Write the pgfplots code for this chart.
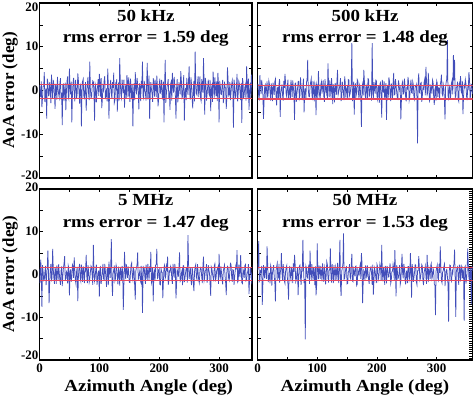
\documentclass[border=0pt]{standalone}
\usepackage{fontspec}
\setmainfont{Liberation Serif}
\newfontfamily\widefont{Liberation Serif}[FakeStretch=1.12]
\usepackage{pgfplots}
\usepackage{pgfplotstable}
\pgfplotsset{compat=1.18}
\definecolor{traceblue}{RGB}{66,78,186}
\definecolor{rmsred}{RGB}{232,72,96}

\pgfplotstableread{
x tl tr bl br
0 1.2 0.6 1.4 1.0
1 -0.4 1.5 -2.0 2.3
2 -1.5 -1.4 3.5 7.8
3 2.1 -1.9 0.9 -1.6
4 -3.8 3.5 -7.6 -1.3
5 -1.8 0.7 2.2 0.8
6 0.9 -0.8 0.8 0.6
7 1.0 2.4 -1.4 2.0
8 4.2 1.2 -1.2 -7.1
9 -2.6 -0.9 0.6 -2.4
10 -0.6 -6.5 2.0 2.2
11 0.5 -2.5 -2.5 0.5
12 -6.4 0.9 -0.5 -0.9
13 2.7 1.3 1.7 1.7
14 1.8 -1.7 5.6 1.5
15 -1.2 0.2 0.3 -1.0
16 -1.1 2.1 -6.7 6.6
17 1.9 -1.6 -1.9 2.5
18 0.4 -0.5 1.1 -1.8
19 -2.9 2.2 2.4 -0.6
20 3.6 1.4 -1.6 0.4
21 0.8 -0.4 -0.7 -2.1
22 -1.9 -2.3 6.0 2.1
23 2.4 1.6 1.3 1.4
24 1.3 0.3 -0.8 -2.6
25 -0.9 -2.4 -2.2 0.3
26 -4.2 1.8 1.7 1.2
27 1.5 0.8 0.8 2.2
28 0.7 -1.0 -2.2 -0.5
29 -2.1 2.0 2.1 -1.8
30 3.1 2.6 0.6 -6.3
31 0.3 -1.1 -1.5 0.9
32 -0.8 -3.4 2.4 1.8
33 -1.6 0.5 0.4 2.6
34 1.6 0.7 -1.3 -1.0
35 2.8 -2.0 -2.4 -0.7
36 -2.0 1.5 0.9 2.5
37 -0.5 2.6 1.9 -1.9
38 -7.9 -6.0 -2.7 0.3
39 1.2 -0.7 -0.3 1.2
40 1.4 0.4 1.5 5.0
41 -2.4 1.4 2.6 0.4
42 0.2 -1.2 4.3 -1.5
43 1.8 -2.3 -1.2 2.4
44 -4.5 2.2 -1.0 0.9
45 -0.2 0.6 0.7 -1.5
46 2.2 3.8 0.4 -2.1
47 3.2 1.8 -2.1 0.7
48 -1.3 -0.9 2.1 1.6
49 -1.9 -1.5 1.5 2.1
50 5.0 1.0 -4.9 -0.7
51 0.6 2.5 0.2 -2.3
52 -0.9 -2.0 1.2 -5.9
53 2.0 -0.3 -1.7 1.0
54 -7.3 0.6 -0.6 2.0
55 -1.1 -1.9 2.3 -0.4
56 1.7 2.4 1.9 -1.2
57 2.9 1.1 -0.8 1.8
58 -0.5 -1.5 4.0 0.8
59 -2.5 2.3 1.1 -2.0
60 2.4 0.8 -1.4 2.6
61 1.1 -0.8 -2.3 0.6
62 -1.8 -6.7 0.7 4.6
63 -0.6 1.6 1.8 2.5
64 3.9 1.7 -6.2 -1.7
65 2.3 -2.6 -0.5 -1.2
66 -0.3 -0.6 1.6 0.5
67 -3.0 0.4 2.5 1.5
68 1.0 2.0 -0.9 -4.8
69 1.4 2.1 -1.6 -0.6
70 -8.2 -1.8 2.3 1.9
71 -0.3 -1.2 0.6 2.2
72 2.1 3.0 -1.7 -0.6
73 2.6 0.9 1.9 -2.4
74 -1.2 -0.4 0.5 1.2
75 -1.7 -2.2 -2.0 0.9
76 0.6 1.1 1.3 8.1
77 1.9 2.7 0.9 1.6
78 -4.6 -5.0 4.6 -2.0
79 -0.8 -0.5 -0.4 -1.1
80 1.5 0.5 -2.0 -15.2
81 3.1 -1.8 2.2 2.0
82 -0.7 1.9 0.8 1.4
83 -2.2 2.4 -1.8 -0.5
84 6.6 7.0 -1.1 -0.8
85 0.4 0.3 0.5 1.3
86 -1.6 -1.3 2.0 2.3
87 -1.5 -1.4 1.7 -2.2
88 0.8 0.9 -0.3 5.6
89 2.2 1.9 -2.4 0.7
90 2.0 2.7 6.9 -1.4
91 -0.7 -0.6 1.0 2.4
92 -6.9 -2.2 -1.5 0.7
93 1.6 2.2 -0.6 -1.4
94 1.1 0.2 1.2 1.8
95 -2.7 -2.5 2.3 0.3
96 -0.4 1.6 -2.4 -2.5
97 0.9 0.8 -1.3 1.9
98 2.6 -5.6 0.6 -4.9
99 -1.2 1.5 0.8 -2.6
100 3.8 0.8 -5.2 7.3
101 1.7 -1.7 1.6 0.8
102 -1.4 4.4 1.8 -1.1
103 2.8 0.5 -2.2 2.1
104 -4.0 -1.1 -0.7 0.9
105 -2.0 -2.1 0.4 -1.0
106 0.9 1.3 2.5 2.0
107 0.2 2.0 -1.0 0.5
108 2.3 -0.7 -1.2 -1.6
109 3.3 0.9 2.5 2.6
110 -1.7 2.3 0.9 0.4
111 -1.4 -1.3 -0.7 -1.7
112 0.5 -2.6 -2.9 1.7
113 -2.5 2.6 1.3 0.9
114 5.0 0.6 1.4 -2.3
115 1.0 -0.4 -2.5 -0.3
116 -6.4 1.2 3.0 3.0
117 -0.9 -1.8 0.9 2.3
118 1.3 6.2 -0.8 -0.7
119 2.4 1.2 2.0 -1.9
120 -0.8 -1.5 8.3 1.1
121 -1.9 2.3 -1.6 1.1
122 1.9 0.9 -5.0 6.1
123 0.6 -1.6 0.3 -0.8
124 4.1 2.8 1.0 -1.9
125 -2.8 0.6 2.1 2.4
126 -2.2 -3.1 -1.5 0.6
127 1.3 1.4 -0.9 -2.0
128 0.6 0.4 2.2 2.2
129 2.6 -2.7 1.5 0.6
130 -4.8 1.7 -0.4 -1.3
131 -0.5 0.9 -2.3 1.7
132 1.8 -1.0 1.3 0.8
133 -2.3 2.1 0.7 -1.3
134 7.4 4.7 -2.6 2.7
135 1.9 -1.0 1.8 0.4
136 -1.0 -0.3 0.7 -2.0
137 -1.7 0.4 -1.4 2.2
138 2.5 1.4 2.0 8.1
139 0.8 2.8 0.5 -2.5
140 -0.6 -2.4 -8.3 -5.0
141 2.5 -1.5 -2.1 0.8
142 -3.9 2.0 5.3 1.4
143 -0.4 0.7 1.2 2.6
144 1.2 -0.8 -1.1 9.6
145 -1.8 -2.2 2.4 -1.1
146 3.5 3.2 0.8 -0.9
147 2.0 1.6 -0.8 0.5
148 -1.5 -1.6 1.9 1.6
149 3.0 0.3 0.6 1.8
150 0.3 0.7 -1.8 -2.2
151 -2.6 -1.9 -1.9 -2.1
152 2.7 2.5 0.4 0.5
153 0.7 2.4 2.2 0.9
154 -2.0 -1.2 2.7 2.4
155 1.5 -0.8 -0.5 -0.6
156 -8.2 0.3 -1.3 -1.0
157 -1.0 1.7 1.4 2.4
158 1.6 10.8 1.0 4.8
159 -2.2 -2.4 -2.6 -1.5
160 4.2 -1.4 -5.9 -1.7
161 1.2 2.0 0.9 1.3
162 -0.9 -5.5 1.6 0.7
163 2.9 0.5 2.3 -0.4
164 1.4 1.6 5.2 1.9
165 -0.7 -1.3 -1.1 2.0
166 -4.3 -0.5 -0.9 -2.6
167 1.6 2.5 0.4 -2.3
168 0.8 2.2 1.2 1.2
169 -2.4 -0.6 -1.8 0.7
170 2.2 -1.9 -2.1 -0.4
171 0.5 1.3 2.0 1.5
172 6.6 0.8 -9.0 2.3
173 -1.3 -2.0 -0.6 -1.0
174 -1.8 -8.3 1.8 5.0
175 2.2 0.8 1.6 2.7
176 0.4 1.5 -0.6 -6.7
177 -0.8 -1.1 -2.2 -1.8
178 -2.3 4.7 2.3 1.0
179 1.4 2.2 0.8 0.6
180 6.3 -0.9 -1.5 -1.5
181 -2.0 -1.8 2.5 2.1
182 0.7 1.1 0.7 0.8
183 3.4 0.6 -1.3 -0.9
184 -6.5 -2.0 1.9 2.1
185 -1.1 2.7 0.6 0.4
186 1.9 2.6 5.3 -1.1
187 0.3 -1.5 -2.0 -2.2
188 -0.6 -0.6 -1.4 0.3
189 -2.6 1.0 1.7 1.6
190 2.8 0.9 -6.3 1.8
191 1.8 -2.3 0.2 0.2
192 -1.4 10.8 0.9 -2.4
193 2.5 0.4 -1.5 2.3
194 0.9 -1.7 2.2 -4.7
195 -1.5 1.9 2.4 -1.4
196 3.4 0.5 6.0 1.5
197 0.9 -0.7 -0.9 0.8
198 -3.6 2.4 -0.7 -0.6
199 -2.1 2.3 1.1 -2.0
200 1.2 -1.3 1.3 2.4
201 2.7 -2.0 -2.3 1.9
202 -0.7 1.0 -2.4 -1.3
203 0.4 0.9 1.6 -0.7
204 2.4 -2.8 0.5 0.9
205 -1.6 1.5 0.5 2.5
206 -1.9 1.8 -5.5 1.7
207 2.0 -1.2 -1.7 -1.3
208 -7.3 -6.2 1.7 6.9
209 1.1 2.4 2.2 0.5
210 7.0 0.6 -0.9 -1.6
211 -2.8 -0.5 -0.4 1.8
212 -0.8 2.1 2.0 0.6
213 0.7 -2.1 1.3 -2.4
214 1.5 -1.0 4.2 2.0
215 2.6 1.7 -2.4 0.9
216 -1.2 -6.7 -1.6 -2.1
217 -0.6 0.3 0.8 2.0
218 -4.4 1.3 0.6 1.0
219 1.5 -1.6 1.9 -0.6
220 2.0 3.0 1.4 -0.5
221 -2.3 2.1 -1.0 1.2
222 4.0 -0.7 -2.2 2.6
223 0.8 -2.4 2.5 -2.1
224 -0.5 1.6 0.8 -1.4
225 3.1 0.7 -0.7 0.6
226 1.1 -2.1 2.5 0.8
227 -1.2 1.6 1.2 2.4
228 -6.4 4.0 -5.6 1.5
229 0.5 -1.0 -2.1 -1.5
230 2.6 -0.9 1.1 5.7
231 -2.7 2.6 0.6 0.7
232 -1.3 1.2 -0.5 -5.1
233 1.9 -0.3 1.8 2.2
234 0.8 -1.6 5.2 1.3
235 -0.9 -1.9 -1.6 -1.0
236 4.4 2.3 -1.3 -0.7
237 2.3 1.4 0.3 0.3
238 -1.7 0.1 0.9 2.2
239 -1.4 0.6 -2.5 -2.3
240 1.3 -6.6 2.1 -1.5
241 3.5 -2.2 2.0 1.6
242 -6.9 1.5 -1.8 4.8
243 -0.6 2.0 -0.8 0.4
244 0.6 -0.8 0.4 -0.9
245 -2.2 -0.8 1.4 2.5
246 2.9 2.7 1.6 1.4
247 1.2 1.1 -1.9 -1.2
248 -1.0 -1.4 9.2 -2.3
249 2.4 -2.5 2.6 0.8
250 5.5 0.6 -1.0 0.6
251 -0.8 0.4 0.4 -2.0
252 -2.1 3.1 1.5 1.9
253 3.0 1.8 -1.3 1.9
254 1.4 -2.2 -2.5 -1.2
255 -1.9 -1.4 1.7 -0.5
256 -4.1 1.0 0.7 5.0
257 0.4 2.5 -2.2 1.3
258 2.2 -0.5 -3.9 -5.4
259 -2.5 -0.6 0.7 2.4
260 8.9 2.0 1.8 1.1
261 2.1 1.2 2.3 -1.7
262 -0.6 -1.7 -0.6 -0.6
263 -1.0 -2.1 -1.1 0.6
264 1.7 0.9 2.4 2.3
265 3.2 0.9 0.5 2.1
266 -1.5 1.4 -1.4 -1.7
267 0.6 -1.7 -2.0 -2.4
268 3.2 -12.1 0.8 0.9
269 -1.8 2.3 1.6 0.9
270 -2.4 3.9 1.3 4.3
271 2.6 -0.4 -0.6 1.6
272 0.9 -0.6 -2.0 -1.3
273 -0.5 1.6 2.1 -0.8
274 7.4 1.8 4.2 0.5
275 1.3 -2.6 -1.5 2.3
276 -5.5 -1.3 -0.8 2.0
277 2.9 0.7 0.9 -1.4
278 1.6 0.4 1.1 -2.5
279 -2.3 1.9 2.4 0.5
280 -0.8 2.6 -1.9 1.2
281 1.0 -1.1 -0.9 2.0
282 2.5 5.4 2.2 -0.4
283 -0.7 2.2 1.0 -2.2
284 -1.1 -1.0 0.3 4.6
285 2.4 -0.5 -2.3 0.7
286 -4.7 4.0 -5.0 -1.8
287 0.2 1.3 1.8 1.5
288 1.0 -2.4 1.4 0.7
289 -2.6 -2.0 0.2 -1.1
290 4.3 1.1 -0.7 2.1
291 1.7 0.8 -1.6 2.6
292 -1.6 -0.7 2.0 -1.0
293 3.0 2.4 2.5 -0.4
294 0.5 1.9 -1.6 1.4
295 -1.3 -1.5 -0.7 1.0
296 2.1 -3.3 0.9 -2.2
297 -2.4 0.2 1.3 -2.5
298 4.0 0.8 1.7 -9.5
299 1.5 -2.3 -2.2 0.8
300 -7.3 2.2 4.8 1.6
301 2.2 1.7 0.6 2.2
302 1.2 -1.5 -1.2 -0.8
303 -0.8 0.6 1.9 -1.3
304 -0.9 0.5 0.6 2.4
305 1.1 -1.8 -1.2 0.4
306 2.4 1.3 -2.3 6.6
307 -2.9 2.1 0.8 1.9
308 -1.8 3.6 1.5 -1.5
309 2.0 -0.7 2.2 -2.0
310 0.7 -1.1 -0.4 0.6
311 0.6 1.4 -2.0 0.9
312 -4.2 0.6 -4.8 1.8
313 -1.5 -2.4 0.5 2.4
314 5.3 -6.6 1.9 -2.7
315 2.6 0.9 1.7 -0.7
316 -1.2 2.0 -1.0 1.0
317 -0.9 2.6 -1.4 1.2
318 1.9 11.5 0.8 -0.5
319 -2.2 -1.2 2.6 -2.3
320 -0.4 -1.8 2.4 -11.0
321 1.4 0.5 -0.5 0.6
322 2.3 1.0 -1.7 2.2
323 0.3 -2.0 1.1 2.1
324 -8.5 -0.4 1.0 -1.2
325 2.5 1.8 -2.4 -1.6
326 1.1 2.4 -0.6 0.8
327 -1.7 -0.9 0.9 0.3
328 -1.4 8.1 2.1 1.9
329 0.9 2.3 1.6 2.5
330 3.8 7.0 5.7 5.8
331 -2.5 -1.6 -1.8 -1.2
332 -0.6 -1.5 -1.5 -9.9
333 2.1 0.7 2.3 0.7
334 1.5 0.9 0.5 1.5
335 -0.3 2.0 -0.6 1.8
336 -2.2 -2.0 4.5 -0.7
337 1.6 -2.5 1.2 -2.4
338 -7.4 1.6 -1.9 2.3
339 2.8 1.1 -2.1 1.0
340 2.0 3.3 1.2 -1.6
341 -1.9 -0.3 0.7 2.3
342 -0.8 -0.6 -0.8 0.9
343 0.7 2.2 2.0 -0.9
344 1.3 -5.4 2.3 1.3
345 -2.3 -1.4 -1.5 0.5
346 5.5 1.2 -1.3 -10.8
347 1.5 0.8 0.4 1.7
348 -1.6 2.5 0.7 2.0
349 2.7 1.6 2.4 -2.1
350 -4.4 -1.3 -4.6 -1.1
351 -0.6 -2.2 -1.0 0.8
352 1.8 0.7 1.6 6.1
353 -1.8 0.4 1.5 2.4
354 3.6 4.2 -0.9 -0.8
355 1.2 2.5 -2.3 -1.4
356 -1.0 -1.9 2.2 1.6
357 2.4 -1.0 0.8 0.6
358 0.9 1.4 -1.4 -7.0
359 -1.1 1.3 1.9 2.0
360 -1.3 -0.8 0.6 0.9
}\data

\pgfplotsset{
  panel/.style={
    scale only axis,
    xmin=0, ymin=-20, ymax=20,
    xtick={0,100,200,300}, minor x tick num=1,
    ytick={-20,-10,0,10,20}, minor y tick num=1,
    tick align=inside,
    major tick length=3bp, minor tick length=3bp,
    axis line style={line width=1.1bp},
    every tick/.style={black, line width=0.6bp},
    tick label style={font=\fontsize{13}{13}\selectfont\bfseries},
    yticklabel style={inner xsep=1bp},
    /pgf/number format/assume math mode=true,
  },
  trc/.style={traceblue, line width=0.75bp, no marks},
  rms/.style={rmsred, line width=1.1bp, no marks},
}
\newcommand{\ttl}{\widefont\fontsize{17}{20}\selectfont\bfseries}
\newcommand{\ylab}{\fontsize{17}{20}\selectfont\bfseries}

\begin{document}
\begin{tikzpicture}
\path[use as bounding box] (-39.5bp,-39bp) rectangle (434.5bp,360bp);

% top left
\begin{axis}[panel, name=tl, at={(0bp,182bp)}, width=212.5bp, height=175bp, xmax=355, xticklabels={},
  yticklabels={\raisebox{6bp}{-20},-10,0,10,\raisebox{0pt}[17bp][0pt]{20}}]
\addplot[trc] table[x=x, y=tl] {\data};
\addplot[rms] coordinates {(0,1.3) (360,1.3)};
\addplot[rms] coordinates {(0,-1.9) (360,-1.9)};
\node[font=\ttl] at (axis cs:177.5,17) {50 kHz};
\node[font=\ttl] at (axis cs:177.5,11.8) {rms error = 1.59 deg};
\end{axis}

% top right
\begin{axis}[panel, name=tr, at={(218bp,182bp)}, width=215bp, height=175bp, xmax=360, xticklabels={}, yticklabels={}]
\addplot[trc] table[x=x, y=tr] {\data};
\addplot[rms] coordinates {(0,1.1) (360,1.1)};
\addplot[rms] coordinates {(0,-1.95) (360,-1.95)};
\node[font=\ttl] at (axis cs:180,17) {500 kHz};
\node[font=\ttl] at (axis cs:180,11.8) {rms error = 1.48 deg};
\end{axis}

% bottom left
\begin{axis}[panel, name=bl, at={(0bp,0bp)}, width=212.5bp, height=171bp, xmax=355,
  yticklabels={\raisebox{10bp}{-20},-10,0,10,\raisebox{4bp}{20}}]
\addplot[trc] table[x=x, y=bl] {\data};
\addplot[rms] coordinates {(0,1.6) (360,1.6)};
\addplot[rms] coordinates {(0,-1.45) (360,-1.45)};
\node[font=\ttl] at (axis cs:177.5,17.4) {5 MHz};
\node[font=\ttl] at (axis cs:177.5,12) {rms error = 1.47 deg};
\end{axis}

% bottom right
\begin{axis}[panel, name=br, at={(218bp,0bp)}, width=215bp, height=171bp, xmax=360, yticklabels={},
  extra y ticks={-19.5,-19,...,19.5}, extra y tick labels={},
  extra y tick style={ytick pos=right, major tick length=4bp, every tick/.style={black, line width=0.4bp}}]
\addplot[trc] table[x=x, y=br] {\data};
\addplot[rms] coordinates {(0,1.7) (360,1.7)};
\addplot[rms] coordinates {(0,-1.3) (360,-1.3)};
\node[font=\ttl] at (axis cs:180,17.4) {50 MHz};
\node[font=\ttl] at (axis cs:180,12) {rms error = 1.53 deg};
\end{axis}

\node[font=\ylab, rotate=90] at ([xshift=-29.5bp]tl.west) {AoA error (deg)};
\node[font=\ylab, rotate=90] at ([xshift=-29.5bp]bl.west) {AoA error (deg)};
\node[font=\ttl] at ([xshift=3bp,yshift=-27bp]bl.south) {Azimuth Angle (deg)};
\node[font=\ttl] at ([yshift=-27bp]br.south) {Azimuth Angle (deg)};
\end{tikzpicture}
\end{document}
